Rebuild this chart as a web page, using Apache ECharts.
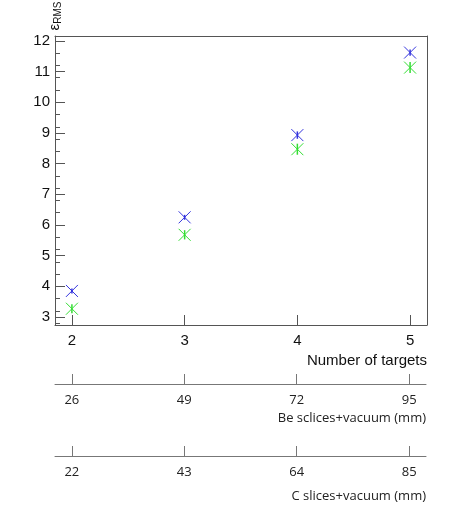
<!DOCTYPE html>
<html>
<head>
<meta charset="utf-8">
<script src="https://cdn.jsdelivr.net/npm/echarts@6/dist/echarts.min.js"></script>
<style>html,body{margin:0;background:#fff}#chart{width:474px;height:519px}</style>
</head>
<body>
<div id="chart"></div>
<script>
// data
var targets = [2, 3, 4, 5];
var blueVals = [3.85, 6.25, 8.93, 11.62];
var blueErr = [0.08, 0.08, 0.12, 0.10];
var greenVals = [3.27, 5.68, 8.47, 11.13];
var greenErr = [0.15, 0.15, 0.18, 0.18];
var yTicks = [3, 4, 5, 6, 7, 8, 9, 10, 11, 12];
var beTicks = [26, 49, 72, 95];
var cTicks = [22, 43, 64, 85];

var myChart = echarts.init(document.getElementById('chart'));

function crossSeries(vals, errs, color) {
    return {
        type: 'custom',
        xAxisIndex: 0,
        yAxisIndex: 0,
        data: targets.map(function (t, i) { return [t, vals[i], errs[i]]; }),
        renderItem: function (params, api) {
            var p = api.coord([api.value(0), api.value(1)]);
            var lo = api.coord([api.value(0), api.value(1) - api.value(2)]);
            var hi = api.coord([api.value(0), api.value(1) + api.value(2)]);
            var s = 6;
            var style = { stroke: color, lineWidth: 1 };
            return {
                type: 'group',
                children: [
                    { type: 'line', shape: { x1: p[0] - s, y1: p[1] - s, x2: p[0] + s, y2: p[1] + s }, style: style },
                    { type: 'line', shape: { x1: p[0] - s, y1: p[1] + s, x2: p[0] + s, y2: p[1] - s }, style: style },
                    { type: 'line', shape: { x1: p[0], y1: lo[1], x2: p[0], y2: hi[1] }, style: { stroke: color, lineWidth: 1.5 } }
                ]
            };
        }
    };
}

function extraAxis(idx, ticks, perTarget, name, nameGap) {
    var min = ticks[0] - 0.15 * perTarget;
    var max = ticks[3] + 0.15 * perTarget;
    return {
        type: 'value', gridIndex: idx, min: min, max: max,
        position: 'bottom',
        axisLine: { show: true, lineStyle: { color: '#777', width: 1 } },
        axisTick: { show: true, inside: true, length: 10, customValues: ticks, lineStyle: { color: '#777' } },
        axisLabel: { show: true, customValues: ticks, margin: 10, color: '#222', fontSize: 13, fontFamily: 'Open Sans' },
        splitLine: { show: false },
        name: name, nameLocation: 'end', nameGap: 0,
        nameTextStyle: { color: '#222', fontSize: 13, fontFamily: 'Open Sans', align: 'right', verticalAlign: 'top', padding: [nameGap, 0, 0, 0] }
    };
}

var option = {
    animation: false,
    grid: [
        { left: 55, right: 47, top: 36, height: 289, outerBoundsMode: 'none', containLabel: false },
        { left: 55, right: 48, top: 384, height: 0, outerBoundsMode: 'none', containLabel: false },
        { left: 55, right: 48, top: 456, height: 0, outerBoundsMode: 'none', containLabel: false }
    ],
    xAxis: [{
        type: 'value', gridIndex: 0, min: 1.85, max: 5.15,
        axisLine: { onZero: false, lineStyle: { color: '#555' } },
        axisTick: { inside: true, length: 10, customValues: targets, lineStyle: { color: '#555' } },
        axisLabel: { customValues: targets, color: '#111', fontSize: 15, fontFamily: 'Liberation Sans', margin: 8 },
        splitLine: { show: false },
        name: 'Number of targets', nameLocation: 'end', nameGap: 0,
        nameTextStyle: { color: '#111', fontSize: 15, fontFamily: 'Liberation Sans', align: 'right', verticalAlign: 'top', padding: [28, 0, 0, 0] }
    }, {
        type: 'value', gridIndex: 0, min: 1.85, max: 5.15, position: 'top',
        axisLine: { show: true, lineStyle: { color: '#555' } },
        axisTick: { show: false }, axisLabel: { show: false }, splitLine: { show: false }
    },
        extraAxis(1, beTicks, 23, 'Be sclices+vacuum (mm)', 28),
        extraAxis(2, cTicks, 21, 'C slices+vacuum (mm)', 34)
    ],
    yAxis: [{
        type: 'value', gridIndex: 0, min: 2.74, max: 12.16,
        axisLine: { show: true, lineStyle: { color: '#555' } },
        axisTick: { inside: true, length: 10, customValues: yTicks, lineStyle: { color: '#555' } },
        minorTick: { show: true, splitNumber: 5, length: 5, lineStyle: { color: '#555' } },
        axisLabel: { customValues: yTicks, color: '#111', fontSize: 15, fontFamily: 'Liberation Sans', margin: 5 },
        splitLine: { show: false },
        name: '{a|ε}{s|RMS}{a| (nm*rad)}', nameLocation: 'end', nameRotate: 90, nameGap: 33,
        nameTextStyle: { align: 'right', verticalAlign: 'middle', rich: {
            a: { fontSize: 15, color: '#111', fontFamily: 'Liberation Sans' },
            s: { fontSize: 10, color: '#111', fontFamily: 'Liberation Sans', verticalAlign: 'bottom', padding: [6, 0, 0, 0] }
        } }
    }, {
        type: 'value', gridIndex: 0, min: 2.74, max: 12.16, position: 'right',
        axisLine: { show: true, lineStyle: { color: '#555' } },
        axisTick: { show: false }, axisLabel: { show: false }, splitLine: { show: false }
    }, { gridIndex: 1, show: false }, { gridIndex: 2, show: false }],
    series: [
        crossSeries(greenVals, greenErr, '#33dd33'),
        crossSeries(blueVals, blueErr, '#3333dd')
    ]
};
myChart.setOption(option);
</script>
</body>
</html>
